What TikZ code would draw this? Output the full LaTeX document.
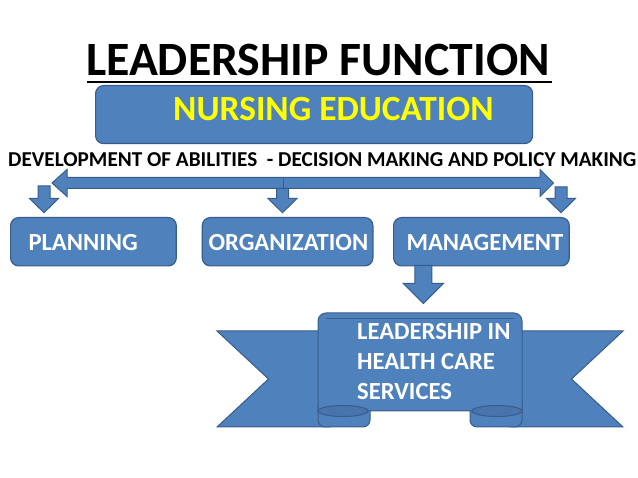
\documentclass[tikz,border=0pt]{standalone}
\usepackage{fontspec}
\setmainfont{Carlito}
\definecolor{fillblue}{HTML}{4F81BD}
\definecolor{edgeblue}{HTML}{385D8A}
\definecolor{darkfold}{HTML}{4674AB}
\definecolor{nurseyellow}{HTML}{FFFF00}
\tikzset{
  bluebox/.style={draw=edgeblue, fill=fillblue, line width=1.2pt, rounded corners=8pt, inner sep=0pt},
  blockarrow/.style={draw=edgeblue, fill=fillblue, line width=1pt, line join=miter},
  lbl/.style={inner sep=0pt, anchor=base west, text=white, font=\bfseries\fontsize{24.6}{30}\selectfont},
}
\begin{document}
\begin{tikzpicture}[x=1pt,y=-1pt]
\useasboundingbox (0,0) rectangle (638,478);
\fill[white] (0,0) rectangle (638,478);

% title
\node[inner sep=0pt, anchor=base, font=\bfseries\fontsize{47.8}{48}\selectfont] (title) at (318,75.5) {LEADERSHIP FUNCTION};
\coordinate (ulL) at (87,82);
\coordinate (ulR) at (552,82);
\draw[line width=2pt] (ulL) -- (ulR);

% nursing education box
\node[bluebox, minimum width=437pt, minimum height=58pt, anchor=north west] (nurse) at (95,85) {};
\node[inner sep=0pt, anchor=base west, text=nurseyellow, font=\bfseries\fontsize{35.4}{36}\selectfont] (nursetxt) at (173,121) {NURSING EDUCATION};

% development line
\node[inner sep=0pt, anchor=base west, font=\bfseries\fontsize{21.2}{24}\selectfont] (dev) at (8,166.7) {DEVELOPMENT OF ABILITIES \ - DECISION MAKING AND POLICY MAKING};

% double block arrow
\draw[blockarrow] (52,183) -- (67,169.5) -- (67,177.5) -- (540,177.5) -- (540,169.5) -- (553.5,183)
  -- (540,196.5) -- (540,188.5) -- (67,188.5) -- (67,196.5) -- cycle;
\draw[edgeblue, line width=1pt] (283,177.5) -- (283,188.5);

% small down arrows
\draw[blockarrow] (38,186) -- (50,186) -- (50,198.5) -- (58.5,198.5) -- (44,212.7) -- (29.5,198.5) -- (38,198.5) -- cycle;
\draw[blockarrow] (276.5,188.5) -- (288.5,188.5) -- (288.5,198.5) -- (297,198.5) -- (282.5,212.7) -- (268,198.5) -- (276.5,198.5) -- cycle;
\draw[blockarrow] (555,187) -- (567,187) -- (567,198.5) -- (575.5,198.5) -- (561,212.7) -- (546.5,198.5) -- (555,198.5) -- cycle;

% row boxes
\node[bluebox, minimum width=165.7pt, minimum height=48.3pt, anchor=north west] (plan) at (10,217) {};
\node[bluebox, minimum width=170.6pt, minimum height=48.3pt, anchor=north west] (org) at (201.7,217) {};
\node[bluebox, minimum width=175.7pt, minimum height=48.3pt, anchor=north west] (man) at (393,217) {};
\node[lbl] (plantxt) at (28.3,250.3) {PLANNING};
\node[lbl] (orgtxt) at (208.3,250.3) {ORGANIZATION};
\node[lbl] (mantxt) at (406.3,250.3) {MANAGEMENT};

% management down arrow
\draw[blockarrow] (414.8,265.3) -- (431.8,265.3) -- (431.8,283.5) -- (443.3,283.5) -- (423.3,303.5)
  -- (403.3,283.5) -- (414.8,283.5) -- cycle;

% ribbon: tails
\draw[blockarrow] (217,331) -- (330,331) -- (330,427) -- (217,427) -- (268.5,379) -- cycle;
\draw[blockarrow] (623,331) -- (510,331) -- (510,427) -- (623,427) -- (571.5,379) -- cycle;
% ribbon: folds
\draw[blockarrow, rounded corners=7pt] (318,404) -- (318,427) -- (370,427) -- (370,404);
\draw[blockarrow, rounded corners=7pt] (522,404) -- (522,427) -- (470,427) -- (470,404);
% ribbon: centre panel
\draw[blockarrow] (318,411) {[rounded corners=8pt] -- (318,313) -- (522,313)} -- (522,411) -- cycle;
\draw[edgeblue, line width=0.8pt] (326,318.5) -- (514,318.5);
% ribbon: roll ends
\draw[draw=edgeblue, fill=darkfold, line width=1pt] (343,411) ellipse [x radius=25, y radius=5.5];
\draw[draw=edgeblue, fill=darkfold, line width=1pt] (497,411) ellipse [x radius=25, y radius=5.5];
\node[lbl] (rib1) at (357,340) {LEADERSHIP IN};
\node[lbl] (rib2) at (357,370) {HEALTH CARE};
\node[lbl] (rib3) at (357,400) {SERVICES};
\end{tikzpicture}
\end{document}
